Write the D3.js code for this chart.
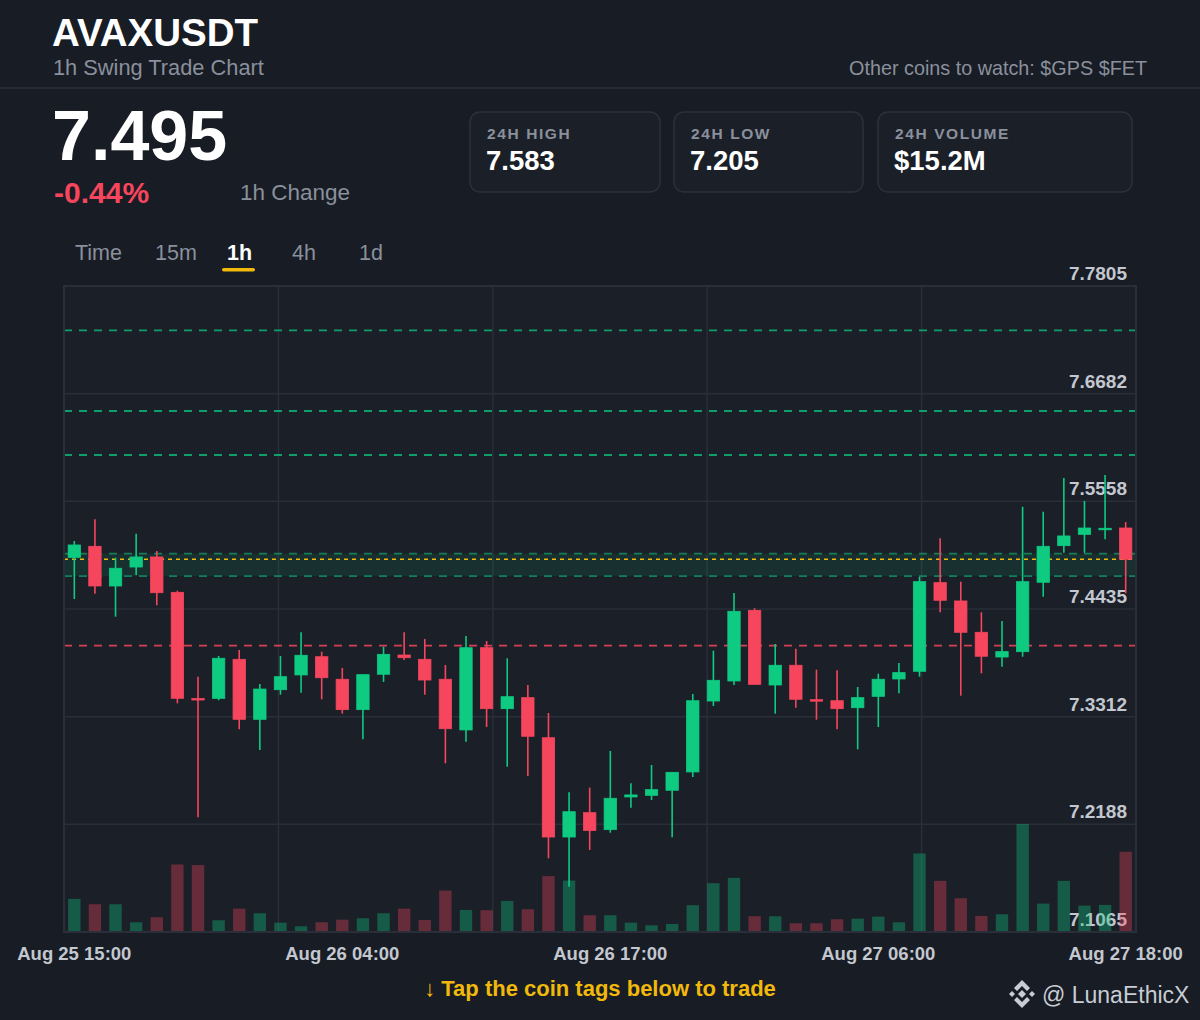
<!DOCTYPE html>
<html>
<head>
<meta charset="utf-8">
<script src="https://cdn.jsdelivr.net/npm/d3@7"></script>
<style>
  body { margin: 0; background: #181c24; }
  svg { display: block; }
</style>
</head>
<body>
<div id="chart"></div>
<script>
// AVAXUSDT 1h candles, Aug 25 15:00 -> Aug 27 18:00
var opens  = [7.4974,7.5089,7.4675,7.4873,7.4978,7.4609,7.3501,7.3503,7.3910,7.3284,7.3593,7.3747,7.3937,
              7.3702,7.3385,7.3754,7.3955,7.3910,7.3702,7.3173,7.4031,7.3395,7.3510,7.3092,7.2056,7.2310,
              7.2133,7.2474,7.2491,7.2544,7.2735,7.3475,7.3684,7.4421,7.3642,7.3848,7.3489,7.3478,7.3405,
              7.3524,7.3705,7.3785,7.4710,7.4519,7.4192,7.3934,7.3990,7.4714,7.5096,7.5214,7.5262,7.5280];
var highs  = [7.5145,7.5371,7.4970,7.5221,7.5040,7.4626,7.3729,7.3945,7.4007,7.3653,7.3945,7.4192,7.3990,
              7.3820,7.3750,7.4042,7.4192,7.4122,7.3851,7.4153,7.4101,7.3921,7.3642,7.3350,7.2523,7.2571,
              7.2954,7.2617,7.2808,7.2731,7.3548,7.4000,7.4602,7.4442,7.4070,7.4021,7.3802,7.3796,7.3621,
              7.3760,7.3872,7.4772,7.5173,7.4720,7.4401,7.4310,7.5502,7.5450,7.5802,7.5562,7.5833,7.5343];
var lows   = [7.4539,7.4595,7.4355,7.4790,7.4474,7.3451,7.2262,7.3483,7.3180,7.2964,7.3541,7.3562,7.3493,
              7.3343,7.3076,7.3674,7.3903,7.3541,7.2825,7.3051,7.3204,7.2790,7.2693,7.1834,7.1538,7.1921,
              7.2101,7.2362,7.2442,7.2053,7.2682,7.3423,7.3642,7.3649,7.3343,7.3405,7.3280,7.3180,7.2971,
              7.3204,7.3556,7.3729,7.4401,7.3531,7.3764,7.3833,7.3937,7.4563,7.5022,7.5022,7.5162,7.4599];
var closes = [7.5103,7.4675,7.4860,7.4978,7.4605,7.3503,7.3488,7.3921,7.3284,7.3600,7.3729,7.3952,7.3718,
              7.3385,7.3750,7.3962,7.3927,7.3694,7.3186,7.4031,7.3395,7.3520,7.3107,7.2056,7.2320,7.2124,
              7.2460,7.2495,7.2550,7.2731,7.3478,7.3691,7.4411,7.3649,7.3848,7.3493,7.3475,7.3395,7.3510,
              7.3702,7.3771,7.4720,7.4526,7.4192,7.3942,7.3990,7.4720,7.5089,7.5197,7.5280,7.5277,7.4954];
var volumes = [330,277,277,97,147,673,667,117,233,187,93,57,97,123,137,187,233,120,413,220,217,310,227,557,513,167,
               167,93,67,80,267,487,540,157,157,87,87,127,133,153,97,783,510,337,160,177,1077,283,510,263,270,800];

var xLabels = [{ i: 0, text: "Aug 25 15:00" }, { i: 13, text: "Aug 26 04:00" }, { i: 26, text: "Aug 26 17:00" },
               { i: 39, text: "Aug 27 06:00" }, { i: 51, text: "Aug 27 18:00" }];
var yTicks = [7.7805, 7.6682, 7.5558, 7.4435, 7.3312, 7.2188, 7.1065];

var resistLevels = [7.7343, 7.6501, 7.6042];
var zoneLevels = [7.5012, 7.4779];
var lastPrice = 7.4954;
var supportLevel = 7.4052;

var stats = [{ label: "24H HIGH", value: "7.583" }, { label: "24H LOW", value: "7.205" }, { label: "24H VOLUME", value: "$15.2M" }];
var tabs = ["Time", "15m", "1h", "4h", "1d"];

var green = "#0ecb81", red = "#f6465d", gold = "#f0b90b", muted = "#8a909c";
var plot = { left: 64, right: 1136, top: 286, bottom: 932 };

var svg = d3.select("#chart").append("svg")
    .attr("width", 1200)
    .attr("height", 1020)
    .style("font-family", "'Liberation Sans', Arial, sans-serif");

svg.append("rect").attr("width", 1200).attr("height", 1020).attr("fill", "#181c24");

// header
svg.append("text").attr("x", 52).attr("y", 46).attr("fill", "#fff")
    .attr("font-size", 38.5).attr("font-weight", "bold").text("AVAXUSDT");
svg.append("text").attr("x", 53).attr("y", 75).attr("fill", muted)
    .attr("font-size", 21.8).text("1h Swing Trade Chart");
svg.append("text").attr("x", 1147).attr("y", 75).attr("fill", muted).attr("text-anchor", "end")
    .attr("font-size", 19.8).text("Other coins to watch: $GPS $FET");
svg.append("rect").attr("x", 0).attr("y", 87).attr("width", 1200).attr("height", 2).attr("fill", "#252a34");

svg.append("text").attr("x", 52).attr("y", 160).attr("fill", "#fff")
    .attr("font-size", 70).attr("font-weight", "bold").text("7.495");
svg.append("text").attr("x", 54).attr("y", 203).attr("fill", red)
    .attr("font-size", 30).attr("font-weight", "bold").text("-0.44%");
svg.append("text").attr("x", 240).attr("y", 200).attr("fill", muted)
    .attr("font-size", 22.5).text("1h Change");

// stat boxes
var boxX = [470, 674, 878], boxW = [190, 189, 254];
var box = svg.selectAll("g.stat").data(stats).enter().append("g")
    .attr("class", "stat")
    .attr("transform", (d, i) => "translate(" + boxX[i] + ",112)");
box.append("rect").attr("width", (d, i) => boxW[i]).attr("height", 80).attr("rx", 10)
    .attr("fill", "#1b1f28").attr("stroke", "#2b303b").attr("stroke-width", 1.5);
box.append("text").attr("x", 17).attr("y", 27).attr("fill", muted).attr("font-size", 15.5)
    .attr("font-weight", "bold").attr("letter-spacing", 1.6).text(d => d.label);
box.append("text").attr("x", 16).attr("y", 58).attr("fill", "#fff").attr("font-size", 27.5)
    .attr("font-weight", "bold").text(d => d.value);

// timeframe tabs
var tabX = [75, 155, 227, 292, 359];
svg.selectAll("text.tab").data(tabs).enter().append("text")
    .attr("class", "tab")
    .attr("x", (d, i) => tabX[i]).attr("y", 260)
    .attr("font-size", 21.5)
    .attr("font-weight", d => d == "1h" ? "bold" : "normal")
    .attr("fill", d => d == "1h" ? "#fff" : muted)
    .text(d => d);
svg.append("rect").attr("x", 222).attr("y", 268).attr("width", 33).attr("height", 3.5).attr("rx", 1.7).attr("fill", gold);

// scales
var x = d3.scaleBand().domain(d3.range(opens.length)).range([plot.left, plot.right])
    .paddingInner(0.4).paddingOuter(0.2);
var y = d3.scaleLinear().domain([yTicks[yTicks.length - 1], yTicks[0]]).range([plot.bottom, plot.top]);
var v = d3.scaleLinear().domain([0, d3.max(volumes)]).range([0, 108]);
var cx = i => x(i) + x.bandwidth() / 2;

svg.append("rect").attr("x", plot.left).attr("y", plot.top)
    .attr("width", plot.right - plot.left).attr("height", plot.bottom - plot.top).attr("fill", "#1b1f28");

// grid
svg.append("g").selectAll("line").data(yTicks).enter().append("line")
    .attr("x1", plot.left).attr("x2", plot.right)
    .attr("y1", d => y(d)).attr("y2", d => y(d))
    .attr("stroke", "#2a2e38").attr("stroke-width", 1.5);
svg.append("g").selectAll("line").data(d3.range(1, 5)).enter().append("line")
    .attr("x1", d => plot.left + (plot.right - plot.left) * d / 5)
    .attr("x2", d => plot.left + (plot.right - plot.left) * d / 5)
    .attr("y1", plot.top).attr("y2", plot.bottom)
    .attr("stroke", "#2a2e38").attr("stroke-width", 1.5);

// price labels sit under the marks
svg.append("g").selectAll("text").data(yTicks).enter().append("text")
    .attr("x", 1127).attr("y", d => y(d) - 6)
    .attr("text-anchor", "end").attr("fill", "#c3c7cf")
    .attr("font-size", 19).attr("font-weight", "bold")
    .text(d => d3.format(".4f")(d));

// key levels
svg.append("rect").attr("x", plot.left).attr("width", plot.right - plot.left)
    .attr("y", y(zoneLevels[0])).attr("height", y(zoneLevels[1]) - y(zoneLevels[0]))
    .attr("fill", green).attr("fill-opacity", 0.1);
svg.append("g").selectAll("line").data(zoneLevels).enter().append("line")
    .attr("x1", plot.left).attr("x2", plot.right)
    .attr("y1", d => y(d)).attr("y2", d => y(d))
    .attr("stroke", green).attr("stroke-opacity", 0.55).attr("stroke-width", 1.8).attr("stroke-dasharray", "8,7");
svg.append("g").selectAll("line").data(resistLevels).enter().append("line")
    .attr("x1", plot.left).attr("x2", plot.right)
    .attr("y1", d => y(d)).attr("y2", d => y(d))
    .attr("stroke", green).attr("stroke-opacity", 0.75).attr("stroke-width", 1.8).attr("stroke-dasharray", "8,7");
svg.append("line").attr("x1", plot.left).attr("x2", plot.right)
    .attr("y1", y(lastPrice)).attr("y2", y(lastPrice))
    .attr("stroke", gold).attr("stroke-width", 1.6).attr("stroke-dasharray", "4,4");
svg.append("line").attr("x1", plot.left).attr("x2", plot.right)
    .attr("y1", y(supportLevel)).attr("y2", y(supportLevel))
    .attr("stroke", red).attr("stroke-opacity", 0.85).attr("stroke-width", 1.8).attr("stroke-dasharray", "8,7");

// volume
svg.append("g").selectAll("rect").data(volumes).enter().append("rect")
    .attr("x", (d, i) => x(i)).attr("width", x.bandwidth())
    .attr("y", d => plot.bottom - v(d)).attr("height", d => v(d))
    .attr("fill", (d, i) => closes[i] >= opens[i] ? green : red)
    .attr("fill-opacity", 0.35);

// candles
var candle = svg.append("g").selectAll("g").data(opens).enter().append("g")
    .attr("fill", (d, i) => closes[i] >= opens[i] ? green : red)
    .attr("stroke", (d, i) => closes[i] >= opens[i] ? green : red);
candle.append("line")
    .attr("x1", (d, i) => cx(i)).attr("x2", (d, i) => cx(i))
    .attr("y1", (d, i) => y(highs[i])).attr("y2", (d, i) => y(lows[i]))
    .attr("stroke-width", 1.6);
candle.append("rect")
    .attr("x", (d, i) => x(i)).attr("width", x.bandwidth())
    .attr("y", (d, i) => y(Math.max(opens[i], closes[i])))
    .attr("height", (d, i) => Math.max(1.5, Math.abs(y(opens[i]) - y(closes[i]))))
    .attr("stroke-width", 0.8);

svg.append("rect").attr("x", plot.left).attr("y", plot.top)
    .attr("width", plot.right - plot.left).attr("height", plot.bottom - plot.top)
    .attr("fill", "none").attr("stroke", "#2a2e38").attr("stroke-width", 2);

// time axis
svg.append("g").selectAll("text").data(xLabels).enter().append("text")
    .attr("x", d => cx(d.i)).attr("y", 960)
    .attr("text-anchor", "middle").attr("fill", "#c3c7cf")
    .attr("font-size", 18.5).attr("font-weight", "bold")
    .text(d => d.text);

// footer
svg.append("text").attr("x", 600).attr("y", 996).attr("text-anchor", "middle")
    .attr("fill", gold).attr("font-size", 22).attr("font-weight", "bold")
    .text("\u2193 Tap the coin tags below to trade");

var logo = svg.append("g").attr("transform", "translate(1022,994)").attr("fill", "#c8ccd4");
var logoShapes = [
  "M0,-4L4,0L0,4L-4,0Z",
  "M-10,-3L-7,0L-10,3L-13,0Z",
  "M10,-3L13,0L10,3L7,0Z",
  "M0,-14L8,-6L5,-3L0,-8L-5,-3L-8,-6Z",
  "M0,14L8,6L5,3L0,8L-5,3L-8,6Z"
];
logo.selectAll("path").data(logoShapes).enter().append("path").attr("d", d => d);
svg.append("text").attr("x", 1042).attr("y", 1003).attr("fill", "#c8ccd4")
    .attr("font-size", 23).text("@ LunaEthicX");
</script>
</body>
</html>
